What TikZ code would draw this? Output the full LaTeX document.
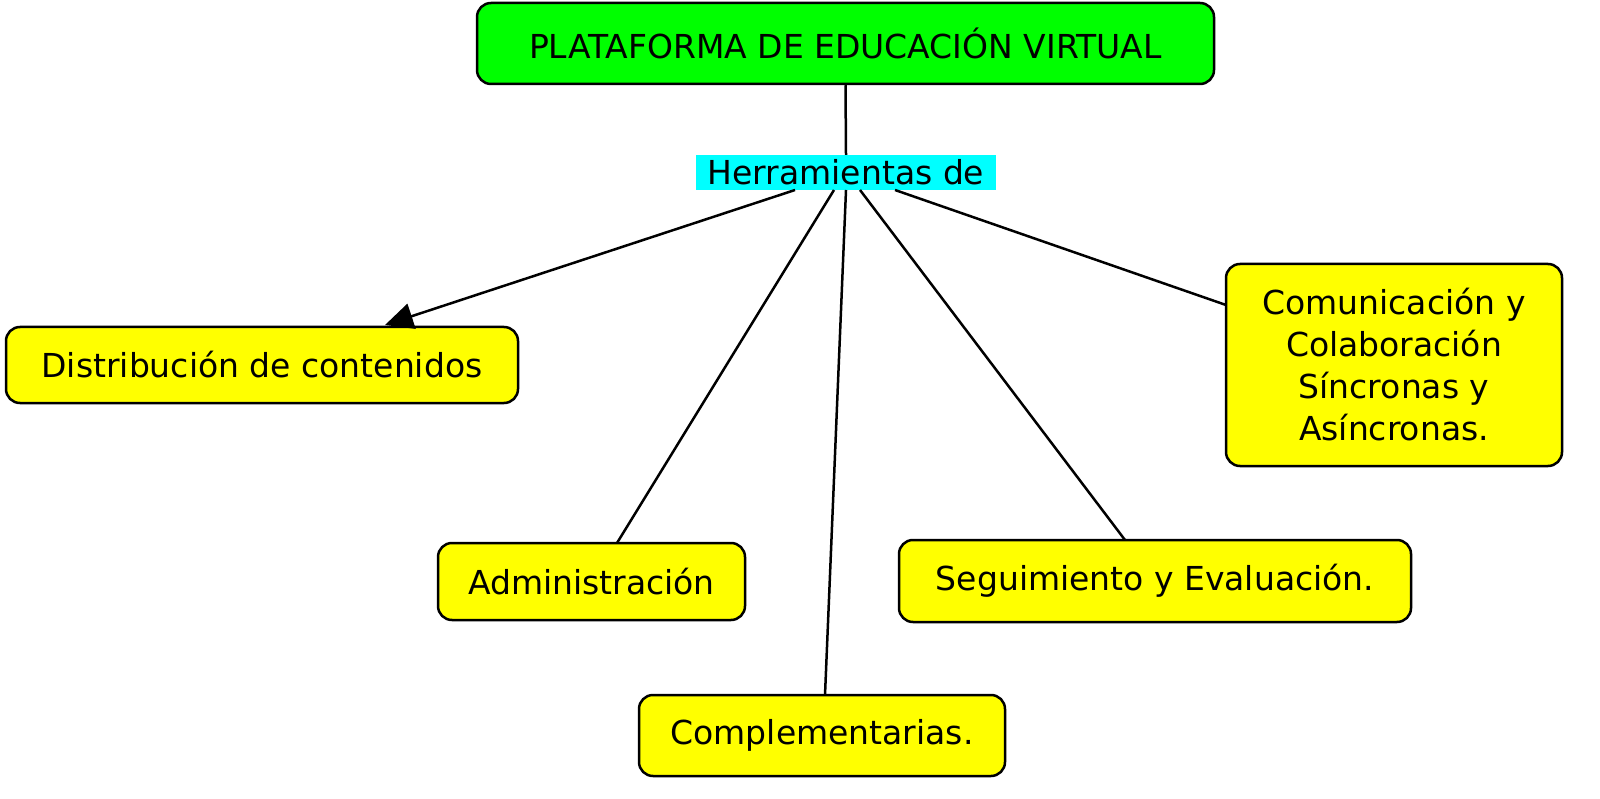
\documentclass[tikz,border=0pt]{standalone}
\usepackage{fontspec}
\setmainfont{DejaVu Sans}
\usetikzlibrary{arrows.meta}
\definecolor{byel}{RGB}{255,255,0}
\definecolor{bgrn}{RGB}{0,255,0}
\definecolor{bcyn}{RGB}{0,255,255}
\begin{document}
\begin{tikzpicture}[x=1pt,y=-1pt,
  box/.style={draw=black,line width=2.5pt,rounded corners=14pt,fill=byel,align=center,inner sep=0pt,font=\fontsize{33}{42}\selectfont},
  link/.style={line width=2.5pt}]
\useasboundingbox (0,0) rectangle (1600,799);
\node[box,fill=bgrn,minimum width=737,minimum height=81] (top) at (845.5,43.5) {PLATAFORMA DE EDUCACIÓN VIRTUAL};
\node[fill=bcyn,minimum width=300,minimum height=35,inner sep=0pt,font=\fontsize{33}{42}\selectfont] (lab) at (846,172.5) {Herramientas de};
\node[box,minimum width=512,minimum height=76] (dist) at (262,365) {Distribución de contenidos};
\node[box,minimum width=307,minimum height=77] (adm) at (591.5,581.5) {Administración};
\node[box,minimum width=366,minimum height=81] (comp) at (822,735.5) {Complementarias.};
\node[box,minimum width=512,minimum height=82] (seg) at (1155,581) {Seguimiento y Evaluación.};
\node[box,minimum width=336,minimum height=202] (com) at (1394,365) {Comunicación y\\Colaboración\\Síncronas y\\Asíncronas.};
\coordinate (l1) at (795,190);
\coordinate (l2) at (834,190);
\coordinate (l3) at (846,190);
\coordinate (l4) at (860,190);
\coordinate (l5) at (895,190);
\coordinate (e1) at (385,325);
\coordinate (e2) at (617,543);
\coordinate (e3) at (825,695);
\coordinate (e4) at (1125,540);
\coordinate (e5) at (1226,305);
\draw[link] (top.south) -- (lab.north);
\draw[link,-{Triangle[length=28pt,width=26pt]}] (l1) -- (e1);
\draw[link] (l2) -- (e2);
\draw[link] (l3) -- (e3);
\draw[link] (l4) -- (e4);
\draw[link] (l5) -- (e5);
\end{tikzpicture}
\end{document}
